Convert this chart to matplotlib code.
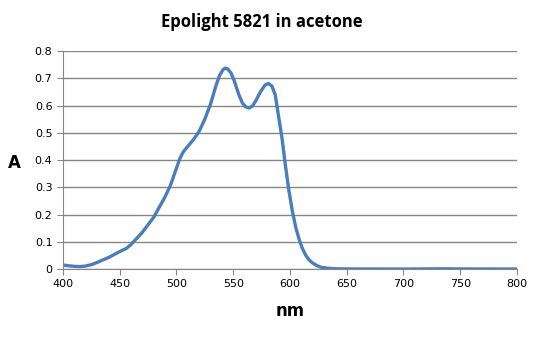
import matplotlib
matplotlib.use("Agg")
from matplotlib import pyplot as plt

# spectrum
wavelength = [400, 405, 410, 415, 420, 425, 430, 440, 450, 456, 460, 470, 480, 490,
              495, 500, 503, 506, 510, 515, 520, 525, 530, 535, 538, 541, 543, 545,
              548, 551, 555, 558, 561, 564, 567, 570, 574, 578, 581, 584, 587, 590,
              593, 596, 599, 602, 605, 608, 611, 614, 617, 620, 624, 628, 633, 640,
              650, 700, 735, 750, 800]
absorb = [0.015, 0.012, 0.010, 0.009, 0.011, 0.016, 0.024, 0.042, 0.064, 0.076,
          0.09, 0.135, 0.19, 0.265, 0.31, 0.37, 0.405, 0.43, 0.45, 0.475, 0.505,
          0.55, 0.605, 0.675, 0.71, 0.732, 0.737, 0.735, 0.72, 0.69, 0.64, 0.61,
          0.595, 0.591, 0.598, 0.618, 0.65, 0.675, 0.681, 0.672, 0.64, 0.56,
          0.48, 0.38, 0.29, 0.215, 0.155, 0.11, 0.075, 0.05, 0.033, 0.022, 0.012,
          0.006, 0.003, 0.001, 0.0005, 0.0, 0.001, 0.0005, 0.0]
xticks = [400, 450, 500, 550, 600, 650, 700, 750, 800]
yticks = [0, 0.1, 0.2, 0.3, 0.4, 0.5, 0.6, 0.7, 0.8]

fig = plt.figure(figsize=(5.33, 3.38), dpi=100)
ax = fig.add_axes([0.118, 0.204, 0.852, 0.645])

ax.plot(wavelength, absorb, color='#4a7ebb', lw=2.4, solid_capstyle='round',
        solid_joinstyle='round')

ax.set_xlim(400, 800)
ax.set_ylim(0, 0.8)
ax.set_xticks(xticks)
ax.set_yticks(yticks)
ax.set_yticklabels(['0'] + [str(v) for v in yticks[1:]])
ax.grid(axis='y', color='#868686', lw=1)
ax.set_axisbelow(True)
for s in ['top', 'right']:
    ax.spines[s].set_visible(False)
for s in ['left', 'bottom']:
    ax.spines[s].set_color('#868686')
ax.tick_params(axis='both', colors='#868686', labelcolor='black', labelsize=8, length=4)

fig.text(0.492, 0.935, 'Epolight 5821 in acetone', ha='center', va='center',
         fontsize=12, fontweight='bold', family='Open Sans')
fig.text(0.027, 0.517, 'A', ha='center', va='center', fontsize=12, fontweight='bold')
fig.text(0.544, 0.08, 'nm', ha='center', va='center', fontsize=12, fontweight='bold')

fig.savefig('out.png', dpi=100)
